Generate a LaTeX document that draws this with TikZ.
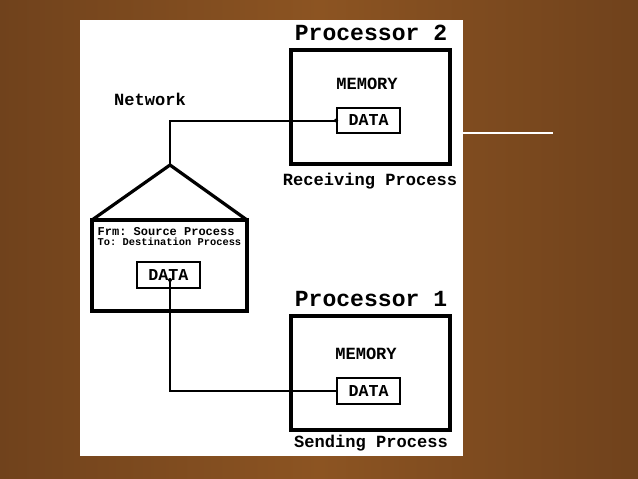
\documentclass[tikz,border=0pt]{standalone}
\usepackage{fontspec}
\setmonofont{Liberation Mono}
\definecolor{bgA}{RGB}{112,66,28}
\definecolor{bgB}{RGB}{140,84,34}
\begin{document}
\begin{tikzpicture}[x=0.75pt,y=-0.75pt,
  box/.style={draw,line width=2.4pt},
  dbox/.style={draw,line width=1.6pt,minimum width=47pt,minimum height=19pt,inner sep=0pt,font=\ttfamily\bfseries\fontsize{12.5}{12.5}\selectfont},
  lbl/.style={font=\ttfamily\bfseries\fontsize{12.8}{12.8}\selectfont},
  big/.style={font=\ttfamily\bfseries\fontsize{17.3}{17.3}\selectfont},
  wire/.style={line width=1.5pt}]
\shade[left color=bgA,right color=bgA,middle color=bgB] (0,0) rectangle (638,478);
\useasboundingbox (0,0) rectangle (638,478);
\fill[white] (80,20) rectangle (463,456);
\draw[white,line width=0.8pt] (463,133) -- (553,133);
% Processor 2
\node[big] (p2) at (371,33) {Processor 2};
\draw[box] (291,50) rectangle (450,164);
\node[lbl] (m2) at (367,84) {MEMORY};
\node[dbox] (d2) at (368.5,120.5) {DATA};
\node[lbl] (r2) at (370,181) {Receiving Process};
\node[lbl] (net) at (150,99) {Network};
% envelope
\coordinate (apex) at (170,165);
\draw[line width=2.4pt,line join=miter] (92,220) -- (apex) -- (247,220);
\draw[box] (92,220) rectangle (247,311);
\node[font=\ttfamily\bfseries\fontsize{9}{9}\selectfont,anchor=west] (frm) at (93,232) {Frm: Source Process};
\node[font=\ttfamily\bfseries\fontsize{7.8}{7.8}\selectfont,anchor=west] (to) at (93,242) {To: Destination Process};
\node[dbox] (de) at (168.5,275) {DATA};
% Processor 1
\node[big] (p1) at (371,299) {Processor 1};
\draw[box] (291,316) rectangle (450,430);
\node[lbl] (m1) at (366,354) {MEMORY};
\node[dbox] (d1) at (368.5,391) {DATA};
\node[lbl] (s1) at (371,443) {Sending Process};
% wires
\draw[wire] (d2.west) -- (170,120.5) -- (apex);
\fill (d2.west) circle (2);
\draw[wire] (d1.west) -- (170,391) -- (170,280);
\fill (170,280) circle (2);
\end{tikzpicture}
\end{document}
